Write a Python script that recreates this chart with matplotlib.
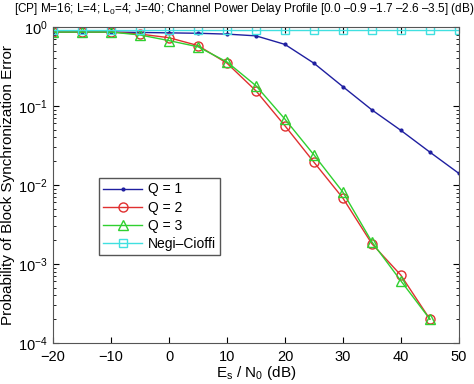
import matplotlib.pyplot as plt
import numpy as np

plt.rcParams["font.family"] = ["Liberation Sans", "DejaVu Sans"]
plt.rcParams["mathtext.fontset"] = "custom"
plt.rcParams["mathtext.rm"] = "Liberation Sans"
plt.rcParams["mathtext.it"] = "Liberation Sans"

snr = [-20, -15, -10, -5, 0, 5, 10, 15, 20, 25, 30, 35, 40, 45, 50]
q1 = [0.86, 0.86, 0.86, 0.85, 0.84, 0.83, 0.81, 0.77, 0.60, 0.347, 0.175, 0.089, 0.049, 0.026, 0.014]
snr_q = [-20, -15, -10, -5, 0, 5, 10, 15, 20, 25, 30, 35, 40, 45]
q2 = [0.86, 0.86, 0.86, 0.81, 0.73, 0.58, 0.347, 0.155, 0.056, 0.0194, 0.0068, 0.0018, 7.2e-4, 2.0e-4]
q3 = [0.86, 0.86, 0.86, 0.79, 0.67, 0.56, 0.36, 0.18, 0.068, 0.024, 0.0081, 0.0019, 6.1e-4, 2.0e-4]
negi = [0.91] * len(snr)

fig = plt.figure(figsize=(4.74, 3.84), dpi=100)
ax = fig.add_axes([0.112, 0.107, 0.856, 0.823])

ax.semilogy(snr, q1, color="#1f1fa0", marker=".", ms=4, lw=1, label="Q = 1")
ax.semilogy(snr_q, q2, color="#e03030", marker="o", ms=6.5, mfc="none", lw=1, label="Q = 2")
ax.semilogy(snr_q, q3, color="#30d030", marker="^", ms=6.5, mfc="none", lw=1, label="Q = 3")
ax.semilogy(snr, negi, color="#40e0e0", marker="s", ms=5.5, mfc="none", lw=1, label="Negi\u2013Cioffi")

ax.set_xlim(-20, 50)
ax.set_ylim(1e-4, 1)
ax.set_xticks(range(-20, 51, 10))
ax.set_xticklabels([str(v).replace("-", "\u2212") for v in range(-20, 51, 10)])
ax.tick_params(which="both", direction="in", top=True, right=True, labelsize=10.5)
ax.tick_params(which="major", length=4)
ax.tick_params(which="minor", length=2)
ax.tick_params(axis="x", pad=5)
ax.tick_params(axis="y", pad=4)
for s in ax.spines.values():
    s.set_color("#555555")

ax.set_xlabel("E$_s$ / N$_0$ (dB)", fontsize=11, labelpad=0)
ax.set_ylabel("Probability of Block Synchronization Error", fontsize=11, labelpad=2)
fig.text(0.515, 0.998,
         "[CP] M=16; L=4; L$_0$=4; J=40; Channel Power Delay Profile [0.0 \u20130.9 \u20131.7 \u20132.6 \u20133.5] (dB)",
         fontsize=8.5, ha="center", va="top")

leg = ax.legend(loc="lower left", bbox_to_anchor=(0.096, 0.256), fontsize=10,
                fancybox=False, framealpha=1, edgecolor="#555555",
                handlelength=2.8, borderpad=0.3, labelspacing=0.3, handletextpad=0.4)

plt.savefig("out.png")
